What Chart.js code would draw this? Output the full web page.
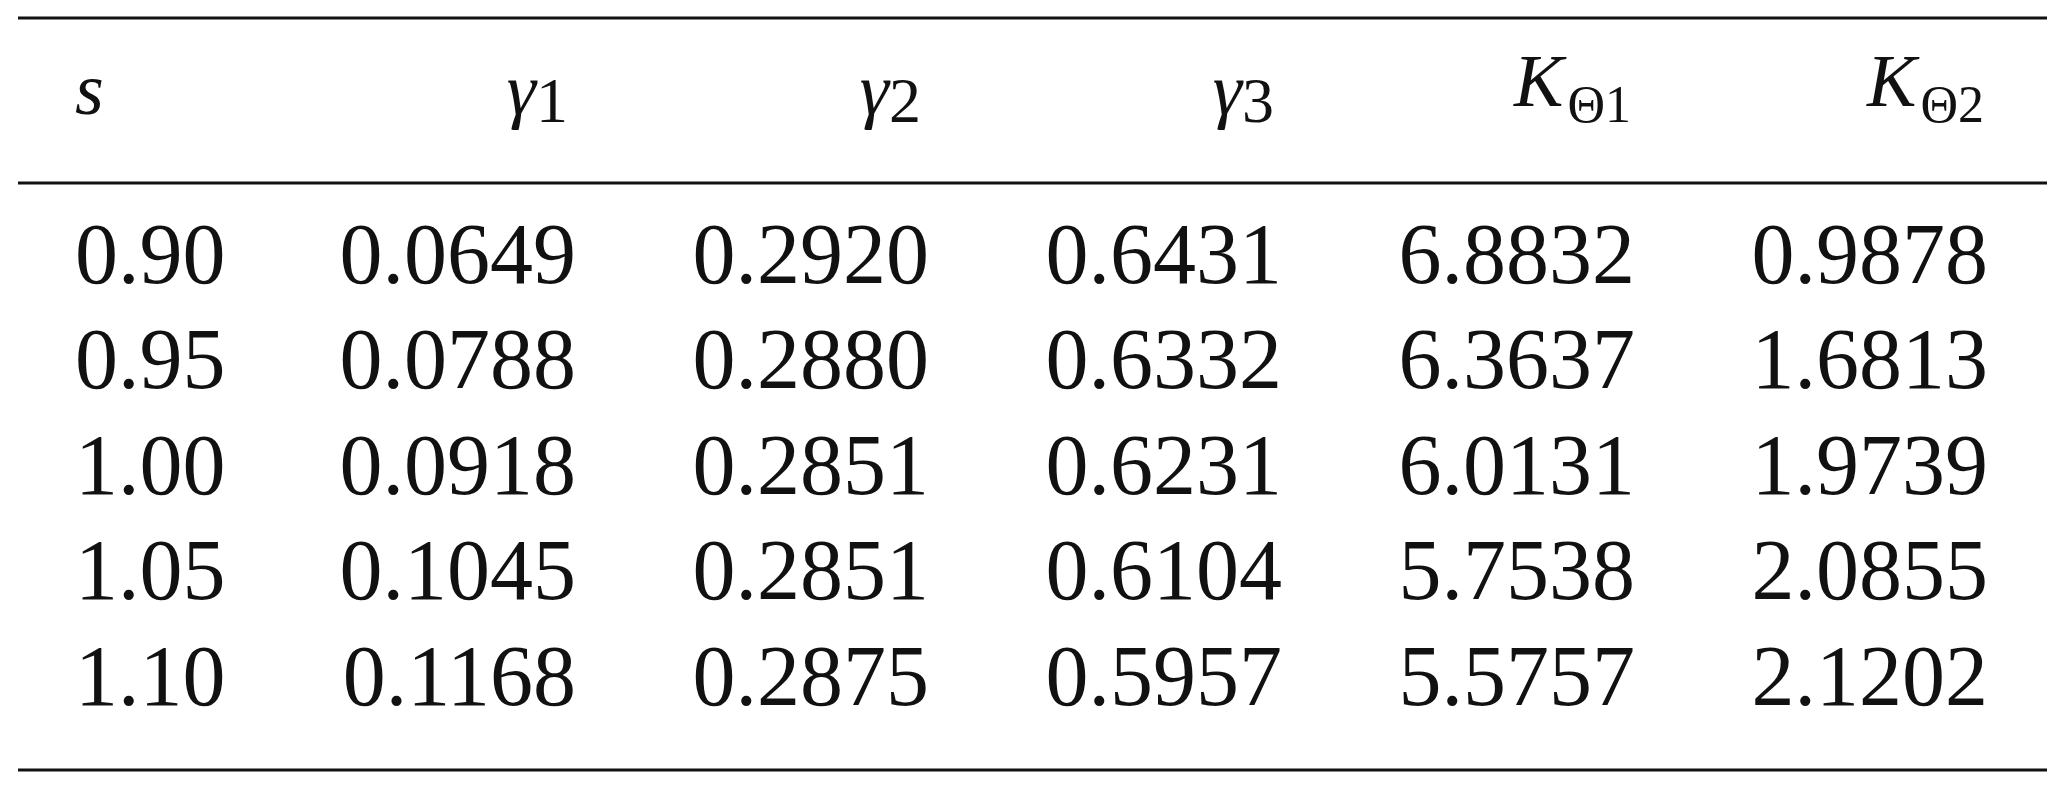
<!DOCTYPE html>
<html>
<head>
<meta charset="utf-8">
<script src="https://cdn.jsdelivr.net/npm/chart.js@4/dist/chart.umd.min.js"></script>
<style>
  html, body { margin: 0; padding: 0; background: #fff; }
  #wrap { width: 2067px; height: 791px; }
</style>
</head>
<body>
<div id="wrap"><canvas id="tableChart"></canvas></div>
<script>
// table content
const columns = ["s", "γ1", "γ2", "γ3", "KΘ1", "KΘ2"];
const headerMain = ["s", "γ", "γ", "γ", "K", "K"];
const headerSub = ["", "1", "2", "3", "Θ1", "Θ2"];
const rowS = ["0.90", "0.95", "1.00", "1.05", "1.10"];
const gamma1 = ["0.0649", "0.0788", "0.0918", "0.1045", "0.1168"];
const gamma2 = ["0.2920", "0.2880", "0.2851", "0.2851", "0.2875"];
const gamma3 = ["0.6431", "0.6332", "0.6231", "0.6104", "0.5957"];
const kTheta1 = ["6.8832", "6.3637", "6.0131", "5.7538", "5.5757"];
const kTheta2 = ["0.9878", "1.6813", "1.9739", "2.0855", "2.1202"];

const tableCols = [rowS, gamma1, gamma2, gamma3, kTheta1, kTheta2];
const FONT = "'Liberation Serif', 'DejaVu Serif', serif";

const tablePlugin = {
    id: "tablePlugin",
    afterDraw: function (chart) {
        const ctx = chart.ctx;
        const xs = chart.scales.x;
        const ys = chart.scales.y;
        const W = chart.width;
        ctx.save();
        ctx.fillStyle = "#111";
        ctx.strokeStyle = "#111";
        ctx.lineWidth = 3;
        // rules
        [18, 183, 770].forEach(function (y) {
            ctx.beginPath();
            ctx.moveTo(18, y);
            ctx.lineTo(W - 20, y);
            ctx.stroke();
        });
        // header
        const hy = 120;
        ctx.textBaseline = "alphabetic";
        for (let c = 0; c < columns.length; c++) {
            const sub = headerSub[c];
            ctx.font = "italic 74px " + FONT;
            const mw = ctx.measureText(headerMain[c]).width;
            ctx.font = (c >= 4 ? "52px " : "64px ") + FONT;
            const sw = sub ? ctx.measureText(sub).width : 0;
            let x;
            if (c === 0) {
                x = xs.getPixelForValue(0) - 148;
            } else {
                x = xs.getPixelForValue(c) - 8 - mw - sw;
            }
            ctx.textAlign = "left";
            ctx.font = "italic 74px " + FONT;
            ctx.fillText(headerMain[c], x, c >= 4 ? hy - 14 : hy - 6);
            if (sub) {
                ctx.font = (c >= 4 ? "52px " : "64px ") + FONT;
                ctx.fillText(sub, x + mw + (c >= 4 ? 4 : 0), hy + 2);
            }
        }
        // body
        ctx.font = "86px " + FONT;
        ctx.textBaseline = "middle";
        for (let c = 0; c < tableCols.length; c++) {
            for (let r = 0; r < tableCols[c].length; r++) {
                const y = ys.getPixelForValue(r);
                if (c === 0) {
                    ctx.textAlign = "left";
                    ctx.fillText(tableCols[c][r], xs.getPixelForValue(0) - 148, y);
                } else {
                    ctx.textAlign = "right";
                    ctx.fillText(tableCols[c][r], xs.getPixelForValue(c), y);
                }
            }
        }
        ctx.restore();
    }
};

const canvas = document.getElementById("tableChart");
new Chart(canvas.getContext("2d"), {
    type: "scatter",
    data: { labels: columns, datasets: [] },
    options: {
        responsive: true,
        maintainAspectRatio: false,
        animation: false,
        layout: { padding: { left: 223, right: 79, top: 260, bottom: 109 } },
        scales: {
            x: { type: "category", labels: columns, offset: false, display: false },
            y: { type: "category", labels: rowS, offset: false, display: false }
        },
        plugins: { legend: { display: false }, tooltip: { enabled: false } }
    },
    plugins: [tablePlugin]
});
</script>
</body>
</html>
